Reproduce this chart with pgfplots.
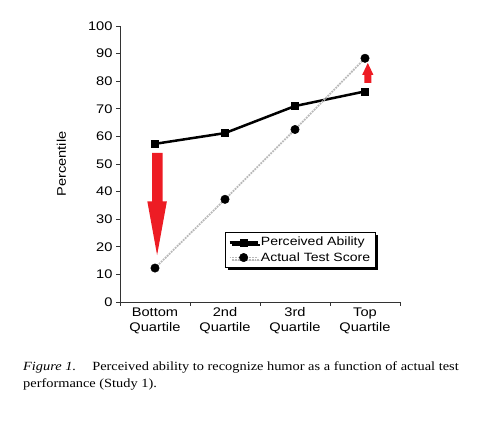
\documentclass[border=0pt]{standalone}
\usepackage{fontspec}
\setmainfont{Liberation Serif}
\newfontfamily\sansf{Liberation Sans}[FakeStretch=1.17]
\newfontfamily\seriff{Liberation Serif}[FakeStretch=1.15]
\usepackage{pgfplots}
\pgfplotsset{compat=1.18}
\usetikzlibrary{shadows}
\definecolor{arrred}{RGB}{237,28,36}
\begin{document}
\begin{tikzpicture}[x=1pt,y=1pt]
\path[use as bounding box] (0,0) rectangle (481,422);
\begin{axis}[
  at={(120pt,120pt)}, anchor=south west,
  scale only axis, width=280pt, height=276pt,
  xmin=-0.5, xmax=3.5, ymin=0, ymax=100,
  axis x line=bottom, axis y line=left,
  axis line style={-, line width=0.8pt, black!80},
  xtick={-0.5,0.5,1.5,2.5,3.5}, xticklabels={},
  extra x ticks={0,1,2,3},
  extra x tick labels={{Bottom\\Quartile},{2nd\\Quartile},{3rd\\Quartile},{Top\\Quartile}},
  extra x tick style={major tick length=0pt, tick label style={align=center, font=\sansf\fontsize{12.5}{15}\selectfont, yshift=-2pt}},
  ytick={0,10,...,100},
  tick align=outside, major tick length=4pt,
  tick style={line width=0.8pt, black!80},
  ticklabel style={font=\sansf\fontsize{12.5}{14}\selectfont},
  /pgf/number format/assume math mode=true,
  ylabel={Percentile},
  ylabel style={font=\sansf\fontsize{12.5}{14}\selectfont, at={(axis description cs:-0.18,0.5)}},
  legend style={at={(rel axis cs:0.375,0.123)}, anchor=south west, draw=black, line width=0.8pt,
    font=\sansf\fontsize{12}{13}\selectfont,
    drop shadow={shadow xshift=2.5pt, shadow yshift=-2.5pt, fill=black, opacity=1},
    fill=white, row sep=1pt, inner xsep=3pt, inner ysep=3pt},
  legend cell align=left,
  legend image code/.code={\draw[mark repeat=2,mark phase=2,#1] plot coordinates {(0pt,0pt)(14pt,0pt)(28pt,0pt)};},
  clip=false,
]
\addplot[black, line width=2.5pt, mark=square*, mark size=3.6pt, mark options={solid, line width=0.5pt}]
  coordinates {(0,57.3) (1,61.2) (2,71.0) (3,76.3)};
\addlegendentry{Perceived Ability}
\addplot[gray!55, line width=1.8pt, densely dotted, mark=*, mark size=4.2pt, mark options={solid, black, fill=black, line width=0.5pt}]
  coordinates {(0,12.3) (1,37.2) (2,62.5) (3,88.3)};
\addlegendentry{Actual Test Score}
\fill[arrred] (axis cs:-0.04,54) -- (axis cs:0.11,54) -- (axis cs:0.11,36.5) -- (axis cs:0.17,36.5)
  -- (axis cs:0.03,17) -- (axis cs:-0.11,36.5) -- (axis cs:-0.04,36.5) -- cycle;
\fill[arrred] (axis cs:2.99,79.4) -- (axis cs:3.09,79.4) -- (axis cs:3.09,82.3) -- (axis cs:3.12,82.3)
  -- (axis cs:3.04,86.6) -- (axis cs:2.96,82.3) -- (axis cs:2.99,82.3) -- cycle;
\end{axis}
\node[anchor=base west, inner sep=0pt, font=\seriff\fontsize{12.5}{18}\selectfont] at (23,51)
  {\textit{Figure 1.}\quad\ Perceived ability to recognize humor as a function of actual test};
\node[anchor=base west, inner sep=0pt, font=\seriff\fontsize{12.5}{18}\selectfont] at (23,34)
  {performance (Study 1).};
\end{tikzpicture}
\end{document}
